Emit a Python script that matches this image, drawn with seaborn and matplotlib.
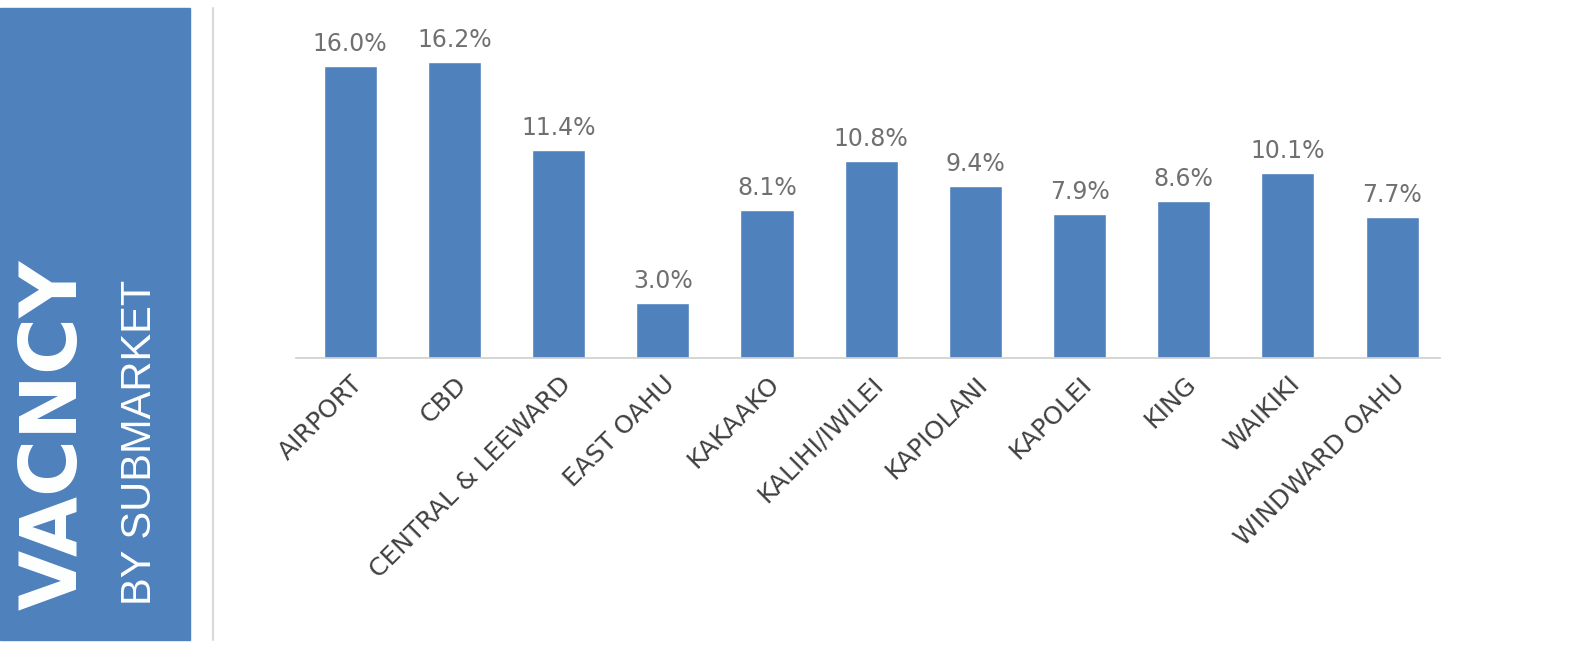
import matplotlib
matplotlib.use("Agg")
import matplotlib.pyplot as plt
import seaborn as sns
import pandas as pd
from matplotlib.patches import Rectangle
from matplotlib.lines import Line2D

categories = ["AIRPORT", "CBD", "CENTRAL & LEEWARD", "EAST OAHU", "KAKAAKO",
              "KALIHI/IWILEI", "KAPIOLANI", "KAPOLEI", "KING", "WAIKIKI", "WINDWARD OAHU"]
vacancy = [16.0, 16.2, 11.4, 3.0, 8.1, 10.8, 9.4, 7.9, 8.6, 10.1, 7.7]

sns.set_theme(style="white")
plt.rcParams['font.family'] = ['DejaVu Sans']
blue = "#4F81BD"

fig = plt.figure(figsize=(15.9, 6.53), dpi=100)
ax = fig.add_axes([296/1590, 1-358/653, (1440-296)/1590, (358-20)/653])
df = pd.DataFrame({"cat": categories, "v": vacancy})
sns.barplot(data=df, x="cat", y="v", color=blue, saturation=1, width=0.51, ax=ax)
ax.set_xlim(-0.52, 10.46)
ax.set_ylim(0, 18.5)
for i, v in enumerate(vacancy):
    ax.text(i, v + 0.55, f"{v:.1f}%", ha="center", va="bottom", fontsize=17, color="#707070")
ax.set_yticks([])
ax.set_xlabel(""); ax.set_ylabel("")
for s in ["top", "left", "right"]:
    ax.spines[s].set_visible(False)
ax.spines["bottom"].set_color("#D0D0D0")
ax.tick_params(axis="x", length=0, pad=10)
ax.set_xticks(range(len(categories)))
ax.set_xticklabels(categories, rotation=45, ha="right", rotation_mode="anchor",
                   fontsize=18, color="#404040", fontstretch="expanded")

fig.patches.append(Rectangle((0, 1-640/653), 190/1590, 632/653, transform=fig.transFigure,
                             color=blue, zorder=0))
fig.lines.append(Line2D([213/1590, 213/1590], [1-640/653, 1-8/653], transform=fig.transFigure,
                        color="#D9D9D9", lw=1.5))
fig.text(55/1590, 1-610/653, "VACNCY", rotation=90, ha="center", va="bottom", color="white",
         fontsize=56, fontweight="bold", family="Liberation Sans Narrow")
fig.text(140/1590, 1-605/653, "BY SUBMARKET", rotation=90, ha="center", va="bottom",
         color="white", fontsize=30, family="Liberation Sans")
fig.savefig("out.png", dpi=100)
